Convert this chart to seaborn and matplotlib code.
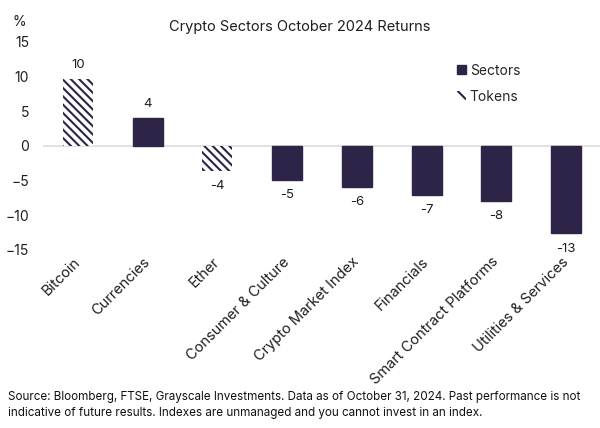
import matplotlib
matplotlib.use("Agg")
import matplotlib.pyplot as plt
from matplotlib.patches import Patch
import seaborn as sns

# values (% return, October 2024)
categories = [
    "Bitcoin", "Currencies", "Ether", "Consumer & Culture",
    "Crypto Market Index", "Financials", "Smart Contract Platforms",
    "Utilities & Services",
]
returns = [9.6, 4.1, -3.6, -4.9, -5.9, -7.1, -7.9, -12.6]
kinds = ["Tokens", "Sectors", "Tokens", "Sectors",
         "Sectors", "Sectors", "Sectors", "Sectors"]
y_ticks = [-15, -10, -5, 0, 5, 10, 15]

DARK = "#2e2447"
TXT = "#1e1e1e"
HATCH = "\\" * 4
FONT = ["Inter", "DejaVu Sans"]

sns.set_style("white")
plt.rcParams["font.family"] = FONT
plt.rcParams["hatch.linewidth"] = 1.5

fig = plt.figure(figsize=(6.0, 4.28), dpi=100)
ax = fig.add_axes([0.0717, 0.416, 0.93, 0.486])

sns.barplot(x=categories, y=returns, color=DARK, width=0.43,
            saturation=1, edgecolor=DARK, linewidth=1, ax=ax, zorder=2)

for patch, kind in zip(ax.patches, kinds):
    if kind == "Tokens":
        patch.set_facecolor("white")
        patch.set_hatch(HATCH)
        patch.set_linewidth(0)

ax.axhline(0, color="#dcdcdc", lw=1.2, zorder=1)

for i, v in enumerate(returns):
    off = 10 if v > 0 else -11
    ax.annotate(f"{v:.0f}", (i, v), xytext=(0, off), textcoords="offset points",
                ha="center", va="center", fontsize=9.5, color=TXT)

ax.set_xlim(-0.5, len(categories) - 0.5)
ax.set_ylim(-15, 15)
ax.set_yticks(y_ticks)
ax.tick_params(axis="y", length=0, pad=10, labelsize=10, labelcolor=TXT)
ax.tick_params(axis="x", length=0, pad=7, labelsize=10.5, labelcolor=TXT)
plt.setp(ax.get_xticklabels(), rotation=45, ha="right", va="center",
         rotation_mode="anchor")
for s in ax.spines.values():
    s.set_visible(False)

handles = [
    Patch(facecolor=DARK, edgecolor=DARK, label="Sectors"),
    Patch(facecolor="white", edgecolor=DARK, linewidth=0, hatch="\\\\",
          label="Tokens"),
]
ax.legend(handles=handles, loc="upper left", bbox_to_anchor=(0.72, 0.955),
          frameon=False, fontsize=10, handlelength=0.6, handleheight=0.6,
          handletextpad=0.3, labelspacing=0.85)

fig.text(0.5, 0.937, "Crypto Sectors October 2024 Returns", ha="center",
         va="center", fontsize=10.5, color=TXT)
fig.text(0.032, 0.948, "%", ha="center", va="center", fontsize=10, color=TXT)
fig.text(0.013, 0.054,
         "Source: Bloomberg, FTSE, Grayscale Investments. Data as of October 31, 2024. Past performance is not\n"
         "indicative of future results. Indexes are unmanaged and you cannot invest in an index.",
         ha="left", va="center", fontsize=8.4, color="#111111", linespacing=1.4)

fig.savefig("out.png", dpi=100)
